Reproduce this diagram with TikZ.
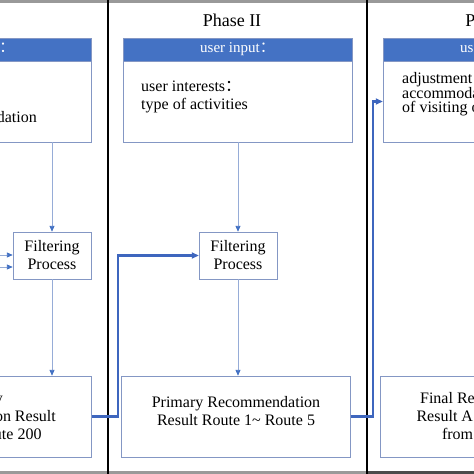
\documentclass[tikz,border=0pt]{standalone}
\usepackage{fontspec}
\setmainfont{Liberation Serif}
\newfontfamily\cjk{Noto Sans CJK SC}
\usetikzlibrary{arrows.meta, calc, positioning}
\definecolor{headblue}{RGB}{68,114,196}
\definecolor{boxline}{RGB}{132,151,196}
\definecolor{linkblue}{RGB}{150,172,215}
\definecolor{routeblue}{RGB}{62,102,190}
\newcommand{\fcolon}{{\cjk ：}}

\begin{document}
\begin{tikzpicture}[x=1pt, y=-1pt,
    every node/.style={font=\fontsize{16}{18}\selectfont, inner sep=0pt},
    headbar/.style={draw=boxline, fill=headblue, text=white, minimum width=229pt, minimum height=23pt, font=\fontsize{15}{18}\selectfont},
    inbox/.style={draw=boxline, fill=white, minimum width=229pt, minimum height=81pt},
    filterbox/.style={draw=boxline, fill=white, minimum width=78pt, minimum height=47pt, align=center},
    resultbox/.style={draw=boxline, fill=white, minimum width=229pt, minimum height=81pt, align=center},
    thinlink/.style={-{Triangle[length=6pt, width=5pt, color=headblue]}, linkblue, line width=0.9pt},
    routelink/.style={-{Triangle[length=7pt, width=6pt]}, routeblue, line width=2.4pt}]
    \useasboundingbox (0,0) rectangle (474,474);
    \clip (0,0) rectangle (474,474);

    % phase frames
    \draw[line width=3pt, black!40] (0,1) -- (474,1);
    \draw[line width=3pt, black!40] (0,472.5) -- (367,472.5);
    \draw[line width=3pt, black!70] (367,472.5) -- (474,472.5);
    \draw[line width=1.5pt] (108,0) -- (108,474);
    \draw[line width=1.5pt] (367,0) -- (367,474);

    % Phase I
    \node[headbar] (hd1) at (-23,49.5) {user input\fcolon};
    \node[inbox] (in1) at (-23,101.5) {};
    \node[anchor=base east] (tx1) at (37,122) {accommodation};
    \node[filterbox] (f1) at (52,255.5) {Filtering\\Process};
    \node[resultbox] (r1) at (-23,416.5) {Primary\\Recommendation Result\\Route 1\~{} Route 200};
    \coordinate (u1) at (-10,255);
    \coordinate (u2) at (-10,267);
    \draw[thinlink] (f1.north |- in1.south) -- (f1.north);
    \draw[thinlink] (u1) -- (u1 -| f1.west);
    \draw[thinlink] (u2) -- (u2 -| f1.west);
    \draw[thinlink] (f1.south) -- (f1.south |- r1.north);

    % Phase II
    \node[font=\fontsize{18}{20}\selectfont] (ph2) at (232,20) {Phase II};
    \node[headbar] (hd2) at (237.5,49.5) {user input\fcolon};
    \node[inbox] (in2) at (237.5,101.5) {};
    \node[anchor=west, align=left] (tx2) at (141,97) {user interests\fcolon\\type of activities};
    \node[filterbox] (f2) at (238,255.5) {Filtering\\Process};
    \node[resultbox, text depth=12pt] (r2) at (236,416.5) {Primary Recommendation\\Result Route 1\~{} Route 5};
    \draw[thinlink] (in2.south -| f2.north) -- (f2.north);
    \draw[thinlink] (f2.south) -- (f2.south |- r2.north);

    % Phase III
    \node[font=\fontsize{18}{20}\selectfont] (ph3) at (497.5,20) {Phase III};
    \node[headbar] (hd3) at (497.5,49.5) {user input\fcolon};
    \node[inbox] (in3) at (497.5,101.5) {};
    \node[anchor=west, align=left, font=\fontsize{16}{13.5}\selectfont] (tx3) at (402,94) {adjustment of\\accommodation\\of visiting order};
    \node[resultbox] (r3) at (495,416.5) {Final Recommendation\\Result A Route Selected\\from 1\~{} Route 5};

    % routes between phases
    \coordinate (j1) at (118,0);
    \coordinate (j2) at (373,0);
    \draw[routelink] (r1.east) -- (r1.east -| j1) -- (j1 |- f2.west) -- (f2.west);
    \draw[routelink] (r2.east) -- (r2.east -| j2) -- (j2 |- in3.west) -- (in3.west);
\end{tikzpicture}
\end{document}
